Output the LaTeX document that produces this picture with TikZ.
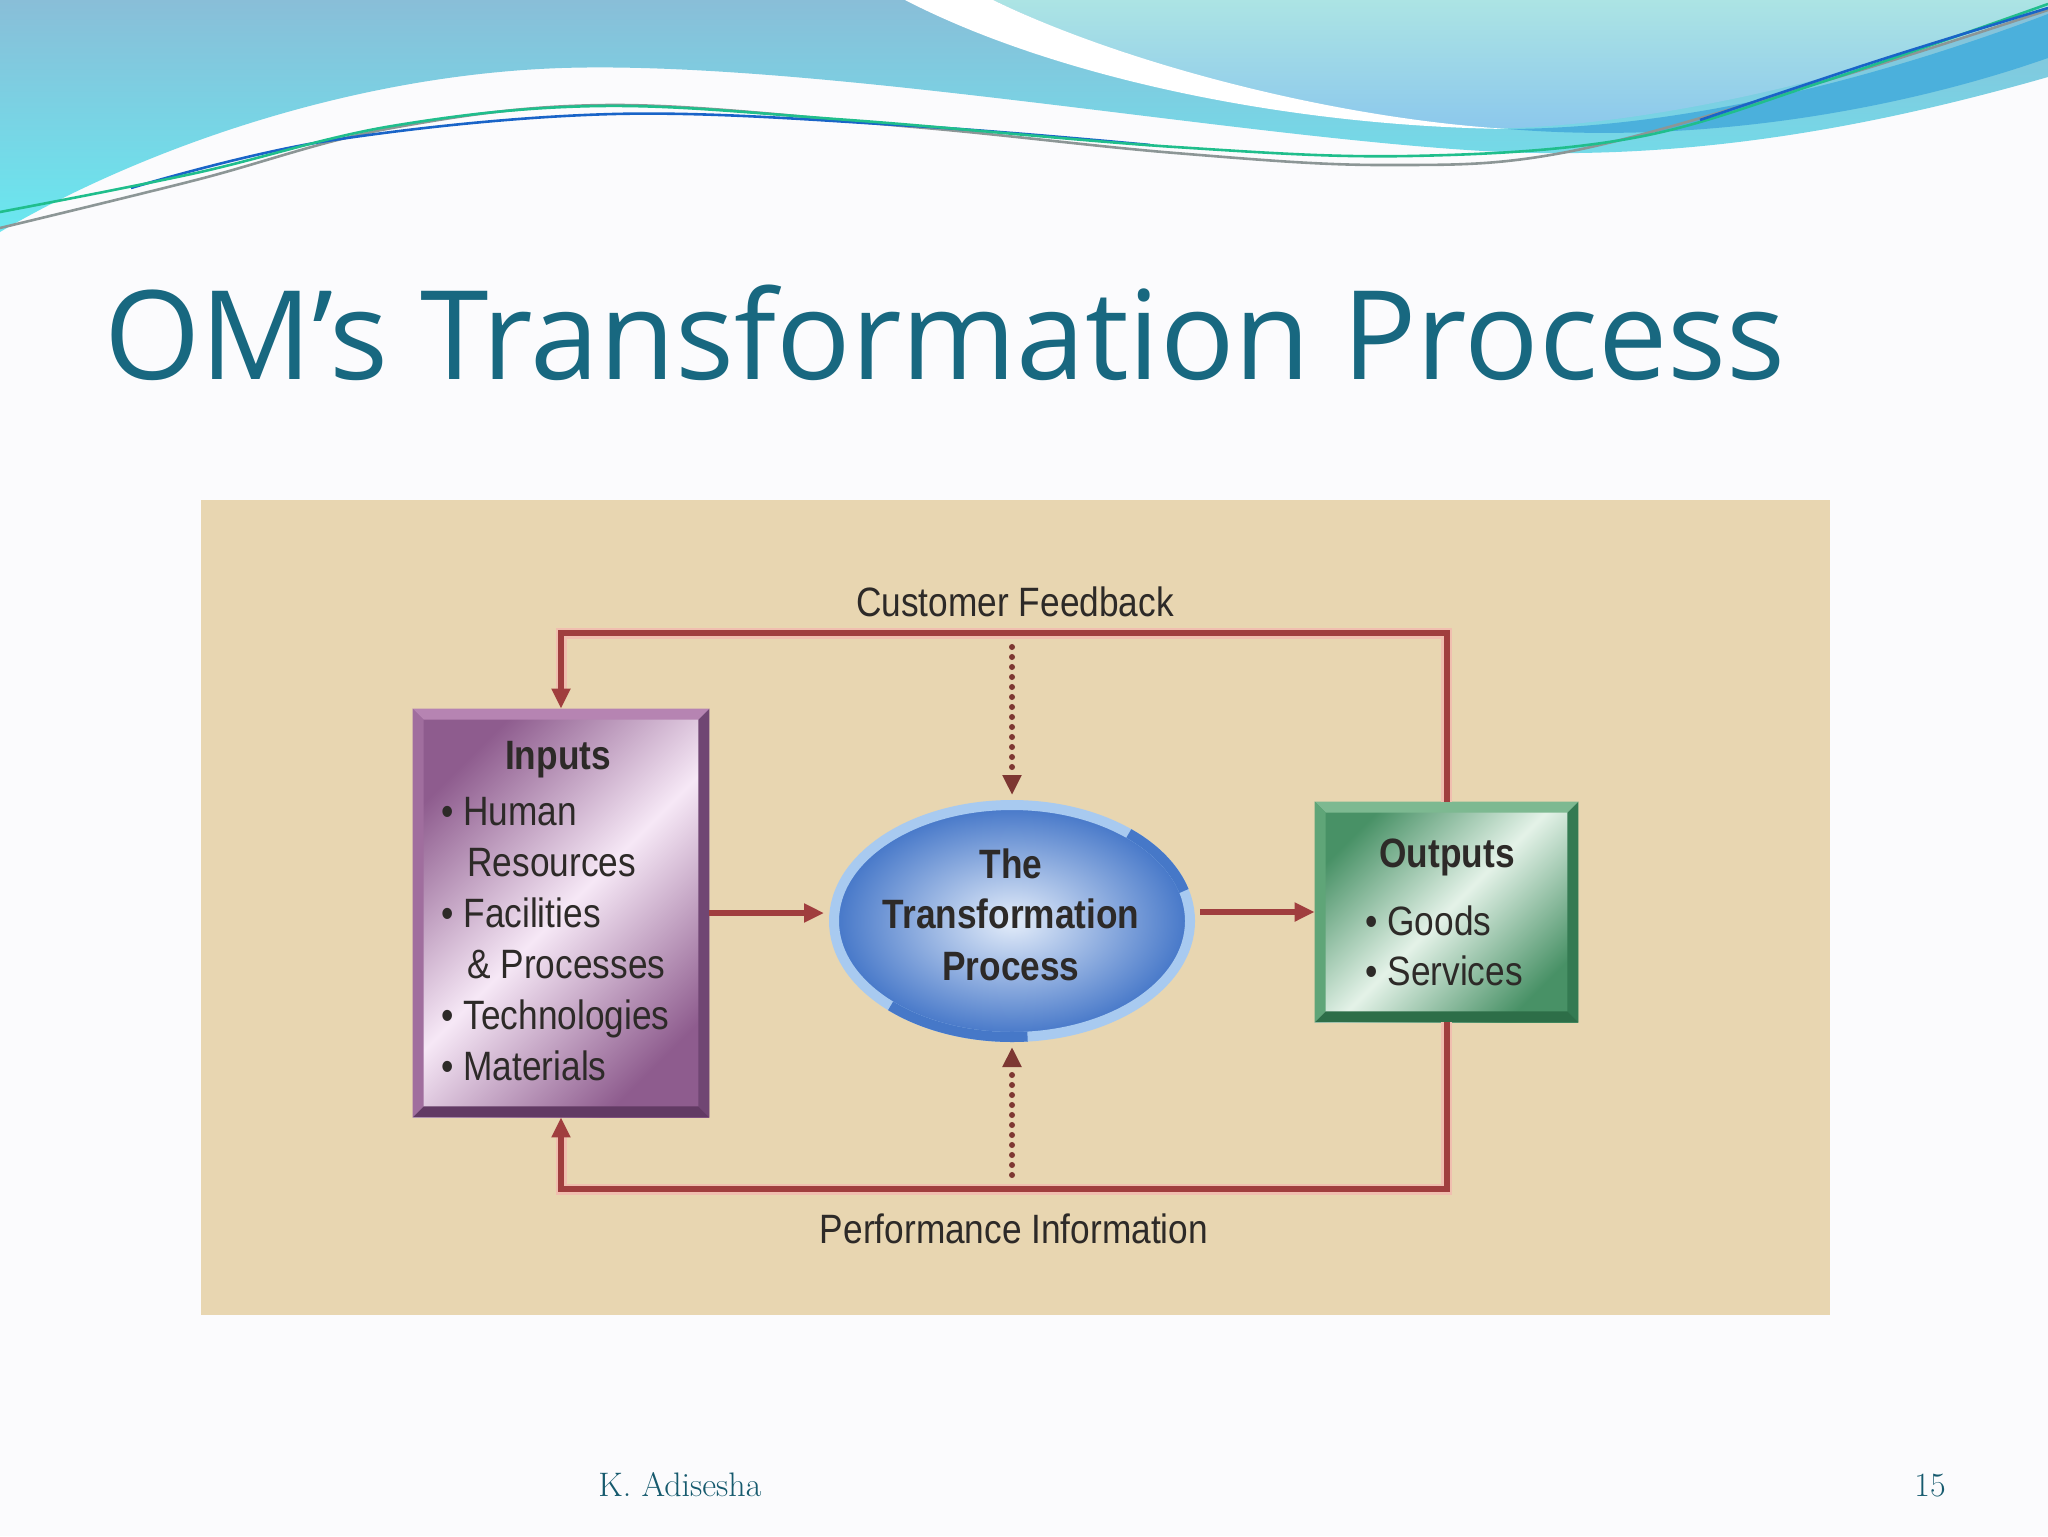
\documentclass[tikz,border=0pt]{standalone}
\usepackage{fontspec}
\newfontfamily\diag[FakeStretch=0.86]{Liberation Sans}
\newfontfamily\titlefont{Open Sans}
\usetikzlibrary{arrows.meta,calc,shapes.geometric}
\definecolor{pagebg}{RGB}{251,251,253}
\definecolor{wavetop}{RGB}{137,190,216}
\definecolor{wavebot}{RGB}{105,232,240}
\definecolor{lighttop}{RGB}{172,228,228}
\definecolor{lightbot}{RGB}{140,200,236}
\definecolor{darkband}{RGB}{75,176,220}
\definecolor{lgreen}{RGB}{32,190,140}
\definecolor{lgray}{RGB}{140,150,150}
\definecolor{lblue}{RGB}{25,100,200}
\definecolor{beige}{RGB}{232,214,177}
\definecolor{titlec}{RGB}{24,104,128}
\definecolor{footc}{RGB}{22,90,110}
\definecolor{flowc}{RGB}{160,62,62}
\definecolor{haloc}{RGB}{240,190,175}
\definecolor{dotc}{RGB}{125,55,50}
\definecolor{txtc}{RGB}{45,42,40}
\definecolor{purA}{RGB}{142,92,142}
\definecolor{purB}{RGB}{246,232,246}
\definecolor{purTop}{RGB}{182,132,178}
\definecolor{purLeft}{RGB}{160,110,158}
\definecolor{purRight}{RGB}{112,70,115}
\definecolor{purBot}{RGB}{98,58,100}
\definecolor{grnA}{RGB}{72,145,102}
\definecolor{grnB}{RGB}{228,242,232}
\definecolor{grnTop}{RGB}{125,185,145}
\definecolor{grnLeft}{RGB}{95,165,120}
\definecolor{grnRight}{RGB}{52,122,82}
\definecolor{grnBot}{RGB}{45,110,72}
\definecolor{bluIn}{RGB}{228,237,250}
\definecolor{bluOut}{RGB}{68,118,200}
\definecolor{bluRim}{RGB}{168,202,240}
\definecolor{bluArc}{RGB}{70,120,200}
\begin{document}
\begin{tikzpicture}[x=0.5pt,y=-0.5pt,
  lbl/.style={font=\diag\fontsize{20.5pt}{24pt}\selectfont, text=txtc, inner sep=0},
  lblb/.style={font=\diag\bfseries\fontsize{20.5pt}{24pt}\selectfont, text=txtc, inner sep=0},
  flow/.style={draw=flowc, line width=3pt},
  halo/.style={draw=haloc, line width=5.5pt},
  tip/.style={-{Triangle[length=10pt,width=9pt]}},
  dotflow/.style={draw=dotc, line width=3pt, line cap=round, dash pattern=on 0pt off 5pt, -{Triangle[length=10pt,width=9pt]}},
  inbox/.style={rectangle, inner sep=0, left color=purA, right color=purA, middle color=purB, shading angle=45},
  outbox/.style={rectangle, inner sep=0, left color=grnA, right color=grnA, middle color=grnB, shading angle=45},
  procell/.style={ellipse, inner sep=0, inner color=bluIn, outer color=bluOut, draw=bluRim, line width=5pt},
  wline/.style={line width=1.3pt}
]
\useasboundingbox (0,0) rectangle (2048,1536);
\fill[pagebg] (0,0) rectangle (2048,1536);
% top waves
\shade[top color=wavetop, bottom color=wavebot] (0,0) -- (2048,0) -- (2048,77)
  .. controls (1880,125) and (1700,160) .. (1502,152)
  .. controls (1250,140) and (820,60) .. (562,68)
  .. controls (350,75) and (140,150) .. (0,232) -- cycle;
\shade[top color=lighttop, bottom color=lightbot] (993,0)
  .. controls (1150,75) and (1350,128) .. (1515,128)
  .. controls (1700,120) and (1900,60) .. (2048,10) -- (2048,0) -- cycle;
\fill[white] (905,0) .. controls (1050,75) and (1280,126) .. (1508,129)
  .. controls (1330,118) and (1120,62) .. (993,0) -- cycle;
\fill[darkband] (1508,129) .. controls (1700,128) and (1900,70) .. (2048,14)
  -- (2048,58) .. controls (1900,110) and (1700,145) .. (1508,129) -- cycle;
\draw[wline, lgray] plot[smooth, tension=0.6] coordinates {(0,228) (196,180) (392,128) (614,105) (914,127) (1175,153) (1384,165) (1567,152) (1828,80) (2048,10)};
\draw[wline, lblue] plot[smooth, tension=0.6] coordinates {(131,188) (327,141) (614,114) (914,126) (1150,145)};
\draw[wline, lgreen] plot[smooth, tension=0.6] coordinates {(0,212) (196,173) (392,126) (601,106) (849,120) (1175,147) (1410,156) (1633,138) (1828,80) (2048,4)};
\draw[wline, lblue] plot[smooth, tension=0.6] coordinates {(1700,120) (1880,60) (2048,8)};
% title
\node[anchor=base west, inner sep=0, text=titlec, font=\titlefont\fontsize{61.8pt}{66pt}\selectfont] (title) at (104,379) {OM’s Transformation Process};
% diagram panel
\fill[beige] (201,500) rectangle (1830,1315);
% boxes
\node[inbox, minimum width=148pt, minimum height=204pt] (inputs) at (561,913) {};
\node[outbox, minimum width=131.5pt, minimum height=110pt] (outputs) at (1446.5,912) {};
\node[procell, minimum width=178pt, minimum height=116pt] (proc) at (1012,921) {};
% bevels
\foreach \n/\ct/\cl/\cr/\cb in {inputs/purTop/purLeft/purRight/purBot, outputs/grnTop/grnLeft/grnRight/grnBot}{
  \fill[\ct] (\n.north west) -- (\n.north east) -- ($(\n.north east)+(-5.5pt,-5.5pt)$) -- ($(\n.north west)+(5.5pt,-5.5pt)$) -- cycle;
  \fill[\cl] (\n.north west) -- (\n.south west) -- ($(\n.south west)+(5.5pt,5.5pt)$) -- ($(\n.north west)+(5.5pt,-5.5pt)$) -- cycle;
  \fill[\cr] (\n.north east) -- (\n.south east) -- ($(\n.south east)+(-5.5pt,5.5pt)$) -- ($(\n.north east)+(-5.5pt,-5.5pt)$) -- cycle;
  \fill[\cb] (\n.south west) -- (\n.south east) -- ($(\n.south east)+(-5.5pt,5.5pt)$) -- ($(\n.south west)+(5.5pt,5.5pt)$) -- cycle;
}
% darker arcs on ellipse rim
\draw[bluArc, line width=5pt] ([shift={(15:89pt and 58pt)}]proc.center) arc[start angle=15, end angle=49, x radius=89pt, y radius=58pt];
\draw[bluArc, line width=5pt] ([shift={(227:89pt and 58pt)}]proc.center) arc[start angle=227, end angle=275, x radius=89pt, y radius=58pt];
% feedback coordinates
\coordinate (topy) at (1012,633);
\coordinate (boty) at (1012,1189);
% feedback loops (halo + line)
\draw[halo] (outputs.north) -- (outputs.north |- topy) -- (inputs.north |- topy) -- ($(inputs.north)+(0,-20)$);
\draw[flow, tip] (outputs.north) -- (outputs.north |- topy) -- (inputs.north |- topy) -- (inputs.north);
\draw[halo] (outputs.south) -- (outputs.south |- boty) -- (inputs.south |- boty) -- ($(inputs.south)+(0,20)$);
\draw[flow, tip] (outputs.south) -- (outputs.south |- boty) -- (inputs.south |- boty) -- (inputs.south);
% main flow arrows
\draw[flow, tip, shorten >=2.5pt] (inputs.east) -- (inputs.east -| proc.west);
\draw[flow, tip] ($(proc.east |- outputs.west)+(2.5pt,0)$) -- (outputs.west);
% dotted arrows
\draw[dotflow, shorten >=2.5pt] ($(topy)+(0,14)$) -- (proc.north);
\draw[dotflow, shorten >=2.5pt] ($(boty)+(0,-14)$) -- (proc.south);
% labels
\node[lbl, anchor=base] (cf) at (1015,616) {Customer Feedback};
\node[lbl, anchor=base] (pi) at (1014,1243) {Performance Information};
% inputs text
\node[lblb, anchor=base] (inT) at (558,769) {Inputs};
\node[lbl, anchor=base west] (in1) at (441,825) {• Human};
\node[lbl, anchor=base west] (in1b) at (467,876) {Resources};
\node[lbl, anchor=base west] (in2) at (441,927) {• Facilities};
\node[lbl, anchor=base west] (in2b) at (467,978) {\& Processes};
\node[lbl, anchor=base west] (in3) at (441,1029) {• Technologies};
\node[lbl, anchor=base west] (in4) at (441,1080) {• Materials};
% process text
\node[lblb, anchor=base] (p1) at (1011,878) {The};
\node[lblb, anchor=base] (p2) at (1011,928) {Transformation};
\node[lblb, anchor=base] (p3) at (1011,980) {Process};
% outputs text
\node[lblb, anchor=base] (outT) at (1447,867) {Outputs};
\node[lbl, anchor=base west] (o1) at (1365,935) {• Goods};
\node[lbl, anchor=base west] (o2) at (1365,985) {• Services};
% footer
\node[anchor=base west, inner sep=0, text=footc, font=\fontsize{17pt}{20pt}\selectfont] (author) at (598,1496) {K. Adisesha};
\node[anchor=base east, inner sep=0, text=footc, font=\fontsize{17pt}{20pt}\selectfont] (pnum) at (1946,1496) {\oldstylenums{15}};
\end{tikzpicture}
\end{document}
